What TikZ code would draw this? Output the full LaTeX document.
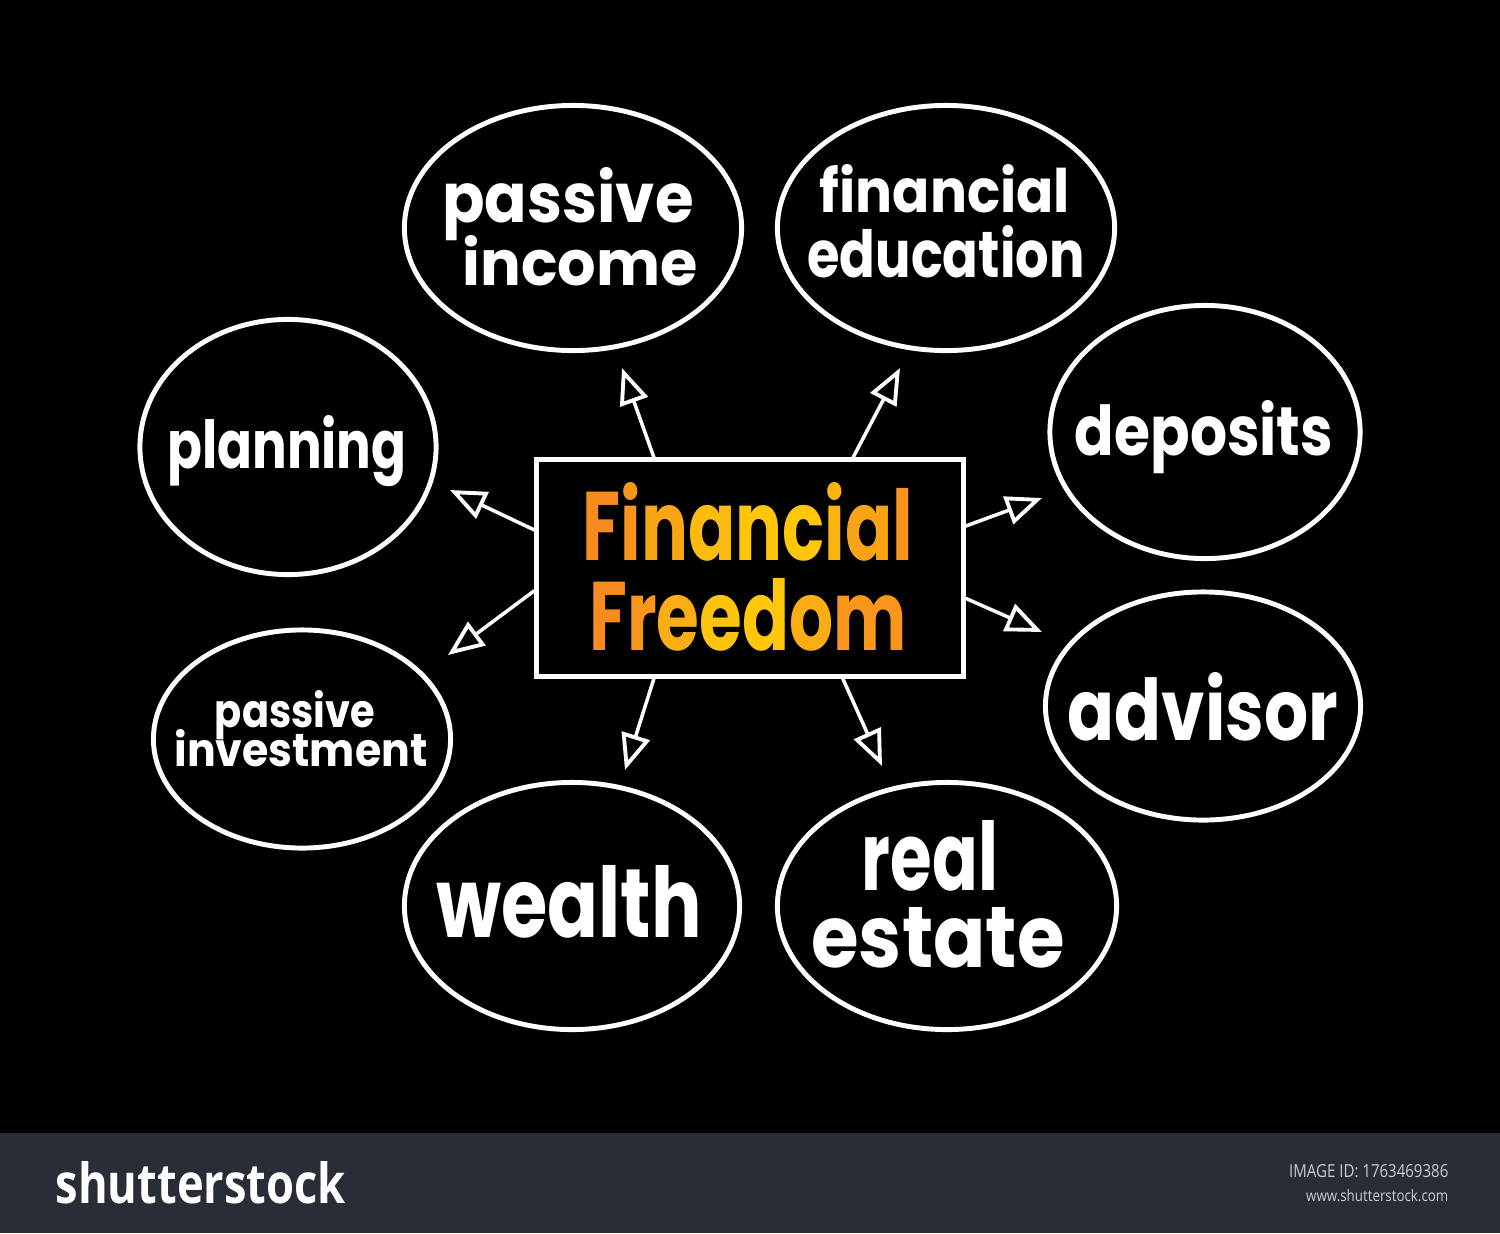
\documentclass[tikz,border=0pt]{standalone}
\usepackage{fontspec}
\setmainfont{Poppins}
\newfontfamily\footfont{Open Sans}
\usetikzlibrary{arrows.meta,shapes.geometric}
\definecolor{ffor}{HTML}{F68B1F}
\definecolor{ffye}{HTML}{FFC60B}
\definecolor{footbg}{HTML}{282D37}
\definecolor{footgray}{HTML}{C9CCD2}
\newcommand{\fitwh}[3]{\resizebox{#1}{#2}{#3}}
\newcommand{\oc}[2]{\textcolor{ffye!#1!ffor}{#2}}
\begin{document}
\begin{tikzpicture}[x=0.01cm,y=-0.01cm,
  bubble/.style={draw=white,line width=1.4pt,ellipse,inner sep=0pt},
  word/.style={text=white,font=\bfseries,inner sep=0pt,anchor=base},
  conn/.style={draw=white,line width=1pt,
    -{Triangle[open,length=0.36cm,width=0.29cm,line width=1.1pt]}},
]
% background and footer
\fill[black] (0,0) rectangle (1500,1133);
\fill[footbg] (0,1133) rectangle (1500,1233);
\useasboundingbox (0,0) rectangle (1500,1233);

% central box
\node[draw=white,line width=1.4pt,minimum width=4.26cm,minimum height=2.16cm,inner sep=0pt] (ff) at (750,568) {};
\node[inner sep=0pt,anchor=base,font=\bfseries] (ff1) at (748,560) {\fitwh{3.30cm}{0.78cm}{\oc{0}{F}\oc{15}{i}\oc{45}{n}\oc{80}{a}\oc{100}{n}\oc{100}{c}\oc{70}{i}\oc{40}{a}\oc{15}{l}}};
\node[inner sep=0pt,anchor=base,font=\bfseries] (ff2) at (748,650) {\fitwh{3.17cm}{0.72cm}{\oc{0}{F}\oc{20}{r}\oc{60}{e}\oc{95}{e}\oc{100}{d}\oc{60}{o}\oc{20}{m}}};

% bubbles
\node[bubble,minimum width=3.37cm,minimum height=2.45cm] (pi) at (573,228) {};
\node[bubble,minimum width=3.37cm,minimum height=2.45cm] (fe) at (946,228) {};
\node[bubble,minimum width=2.96cm,minimum height=2.55cm] (pl) at (288,447) {};
\node[bubble,minimum width=3.10cm,minimum height=2.53cm] (de) at (1205,432) {};
\node[bubble,minimum width=2.97cm,minimum height=2.18cm] (pv) at (302,739) {};
\node[bubble,minimum width=3.15cm,minimum height=2.28cm] (ad) at (1203,706) {};
\node[bubble,minimum width=3.35cm,minimum height=2.47cm] (we) at (572,906) {};
\node[bubble,minimum width=3.39cm,minimum height=2.47cm] (re) at (947,906) {};

% labels
\node[word] (pi1) at (568,222) {\fitwh{2.51cm}{0.55cm}{passive}};
\node[word] (pi2) at (580,285) {\fitwh{2.35cm}{0.50cm}{income}};
\node[word] (fe1) at (945,212) {\fitwh{2.50cm}{0.48cm}{financial}};
\node[word] (fe2) at (946,277) {\fitwh{2.77cm}{0.52cm}{education}};
\node[word] (pl1) at (287,468) {\fitwh{2.39cm}{0.53cm}{planning}};
\node[word] (de1) at (1204,455) {\fitwh{2.58cm}{0.55cm}{deposits}};
\node[word] (pv1) at (295,727) {\fitwh{1.60cm}{0.37cm}{passive}};
\node[word] (pv2) at (301,766) {\fitwh{2.53cm}{0.37cm}{investment}};
\node[word] (ad1) at (1203,740) {\fitwh{2.70cm}{0.68cm}{advisor}};
\node[word] (we1) at (569,937) {\fitwh{2.65cm}{0.72cm}{wealth}};
\node[word] (re1) at (930,890) {\fitwh{1.36cm}{0.70cm}{real}};
\node[word] (re2) at (938,967) {\fitwh{2.53cm}{0.60cm}{estate}};

% arrow tips
\coordinate (tpi) at (622,368);
\coordinate (tfe) at (900,368);
\coordinate (tpl) at (450,490);
\coordinate (tde) at (1042,498);
\coordinate (tpv) at (448,655);
\coordinate (tad) at (1042,632);
\coordinate (twe) at (625,770);
\coordinate (tre) at (882,766);

\draw[conn] (ff.131) -- (tpi);
\draw[conn] (ff.47) -- (tfe);
\draw[conn] (ff.170) -- (tpl);
\draw[conn] (ff.11) -- (tde);
\draw[conn] (ff.186) -- (tpv);
\draw[conn] (ff.352) -- (tad);
\draw[conn] (ff.229) -- (twe);
\draw[conn] (ff.310) -- (tre);

% footer text
\node[inner sep=0pt,anchor=base west,text=white,font=\footfont\bfseries] (logo) at (55,1203) {\fitwh{2.90cm}{0.42cm}{shutterstock}};
\node[inner sep=0pt,anchor=base east,text=footgray,font=\footfont] (imgid) at (1449,1177) {\fitwh{1.59cm}{0.13cm}{IMAGE ID: 1763469386}};
\node[inner sep=0pt,anchor=base east,text=footgray,font=\footfont] (www) at (1449,1201) {\fitwh{1.42cm}{0.12cm}{www.shutterstock.com}};
\end{tikzpicture}
\end{document}
